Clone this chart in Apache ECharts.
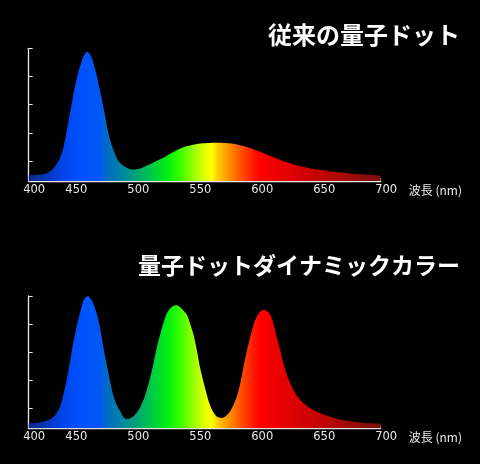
<!DOCTYPE html>
<html>
<head>
<meta charset="utf-8">
<script src="https://cdn.jsdelivr.net/npm/echarts@6/dist/echarts.min.js"></script>
<style>
html,body{margin:0;padding:0;background:#000;}
#c{width:480px;height:464px;}
</style>
</head>
<body>
<div id="c"></div>
<script>
// ---- data ----
const titleTop = '従来の量子ドット';
const titleBottom = '量子ドットダイナミックカラー';
const axisName = '波長 (nm)';
const xMin = 416, xMax = 700;
const xTickValues = [450, 500, 550, 600, 650, 700];
const xLabelValues = [416, 450, 500, 550, 600, 650, 700];
const xLabelTexts = ['400', '450', '500', '550', '600', '650', '700'];
const yTickValues = [1, 2, 3, 4, 5];

const conventionalNm = [416,425,430,435,440,443,446,448,451,453,456,459,461,463,465,467,470,472,475,477.5,480,483,486,488,491,494,499,503,507,511,515,520,526,531,537,542,547,553,560,568,575,581,589,595,600,607,613,620,627,633,640,647,654,660,667,675,683,691,700];
const conventionalVal = [0.49,0.52,0.56,0.70,1.00,1.32,1.90,2.39,3.10,3.58,4.15,4.58,4.78,4.88,4.82,4.64,4.20,3.81,3.20,2.63,2.05,1.56,1.20,1.02,0.88,0.79,0.70,0.71,0.75,0.83,0.91,1.02,1.14,1.28,1.42,1.51,1.56,1.61,1.64,1.65,1.64,1.61,1.53,1.45,1.37,1.25,1.14,1.02,0.92,0.84,0.77,0.71,0.67,0.63,0.60,0.56,0.53,0.51,0.48];

const dynamicNm = [416,425,433,436,439,442,444,447,449.4,452,455,458,460,462,464,466,468,471,473.6,476,479,482,484,487,490,492,494.6,497,500.5,503,506,508.5,511,514,516.5,519,522,524.5,527,530,533,535,537.5,540,543.5,546,549,551.5,554,557,559.6,562,565,568,571.6,575,578,581,584,587,589.4,592,594.8,597.5,600,603,605.7,608,611,613.5,616,619,621.4,624,627,631,635,639,643,648,654,660,667,675,683,691,700];
const dynamicVal = [0.47,0.50,0.60,0.70,0.86,1.15,1.49,2.10,2.67,3.35,3.98,4.50,4.81,4.96,4.99,4.90,4.75,4.35,3.86,3.25,2.56,1.90,1.49,1.12,0.89,0.72,0.62,0.63,0.72,0.84,1.05,1.30,1.61,2.10,2.56,3.10,3.62,4.00,4.34,4.55,4.65,4.67,4.63,4.52,4.34,4.05,3.62,3.10,2.50,1.95,1.50,1.15,0.86,0.70,0.66,0.72,0.86,1.10,1.43,1.95,2.49,3.05,3.56,3.98,4.27,4.45,4.51,4.47,4.33,4.00,3.56,3.05,2.62,2.25,1.90,1.55,1.31,1.14,1.01,0.89,0.78,0.69,0.60,0.54,0.50,0.47,0.46];

// spectrum colour stops: wavelength (nm) -> colour
const spectrumNm = [416,430,445,460,474,478,490,500,515,528,537,548,558,564,568,575,585,597,603,620,650,700];
const spectrumColor = ['#0b2a86','#0636b8','#0046f0','#0052ff','#0058f2','#0068c8','#0082a6','#009c80','#00c848','#00f010','#30ff00','#90ff00','#e0ff00','#ffff00','#ffd000','#ffa000','#ff6000','#ff1a00','#ff0000','#e80000','#c40404','#7c1010'];

// ---- build ----
const chart = echarts.init(document.getElementById('c'), null, {renderer: 'canvas'});
const stops = spectrumNm.map((nm, i) => ({offset: (nm - xMin) / (xMax - xMin), color: spectrumColor[i]}));
const zip = (a, b) => a.map((v, i) => [v, b[i]]);
const axisCol = '#e8e8e8';
const labelFont = '"DejaVu Sans", sans-serif';
const cjk = '"Noto Sans CJK JP", "Noto Sans", sans-serif';

function xAxisCfg(gi) {
  return {
    type: 'value', gridIndex: gi, min: xMin, max: xMax,
    name: axisName, nameLocation: 'end', nameGap: 28,
    nameTextStyle: {color: axisCol, fontSize: 12, fontFamily: cjk, verticalAlign: 'top', padding: [3, 0, 0, 0]},
    axisLine: {show: true, lineStyle: {color: axisCol, width: 1.3}},
    axisTick: {show: true, inside: true, length: 3, customValues: xTickValues, lineStyle: {color: axisCol, width: 1}},
    axisLabel: {
      show: true, customValues: xLabelValues, margin: 3, color: axisCol, fontSize: 11.5, fontFamily: labelFont,
      padding: [0, 0, 0, 11],
      formatter: v => xLabelTexts[xLabelValues.indexOf(v)] ?? String(v)
    },
    splitLine: {show: false}
  };
}
function yAxisCfg(gi) {
  return {
    type: 'value', gridIndex: gi, min: 0.29, max: 5,
    axisLine: {show: true, lineStyle: {color: axisCol, width: 1.3}},
    axisTick: {show: true, inside: true, length: 4, customValues: yTickValues, lineStyle: {color: axisCol, width: 1}},
    axisLabel: {show: false},
    splitLine: {show: false}
  };
}
function seriesCfg(gi, nm, val) {
  return {
    type: 'line', xAxisIndex: gi, yAxisIndex: gi, data: zip(nm, val),
    smooth: 0.3, showSymbol: false, silent: true,
    lineStyle: {width: 0},
    areaStyle: {origin: 'start', opacity: 1, color: new echarts.graphic.LinearGradient(0, 0, 1, 0, stops)}
  };
}

chart.setOption({
  backgroundColor: '#000',
  animation: false,
  title: [
    {text: titleTop, right: 20, top: 22, padding: 0, textStyle: {color: '#fff', fontSize: 24, fontWeight: 'bold', fontFamily: cjk, lineHeight: 26}},
    {text: titleBottom, right: 20, top: 252, padding: 0, textStyle: {color: '#fff', fontSize: 23, fontWeight: 'bold', fontFamily: cjk, lineHeight: 26}}
  ],
  grid: [
    {left: 28.7, right: 99.3, top: 48.3, height: 132.7},
    {left: 28.7, right: 99.3, top: 296, height: 132.3}
  ],
  xAxis: [xAxisCfg(0), xAxisCfg(1)],
  yAxis: [yAxisCfg(0), yAxisCfg(1)],
  series: [seriesCfg(0, conventionalNm, conventionalVal), seriesCfg(1, dynamicNm, dynamicVal)]
});
</script>
</body>
</html>
